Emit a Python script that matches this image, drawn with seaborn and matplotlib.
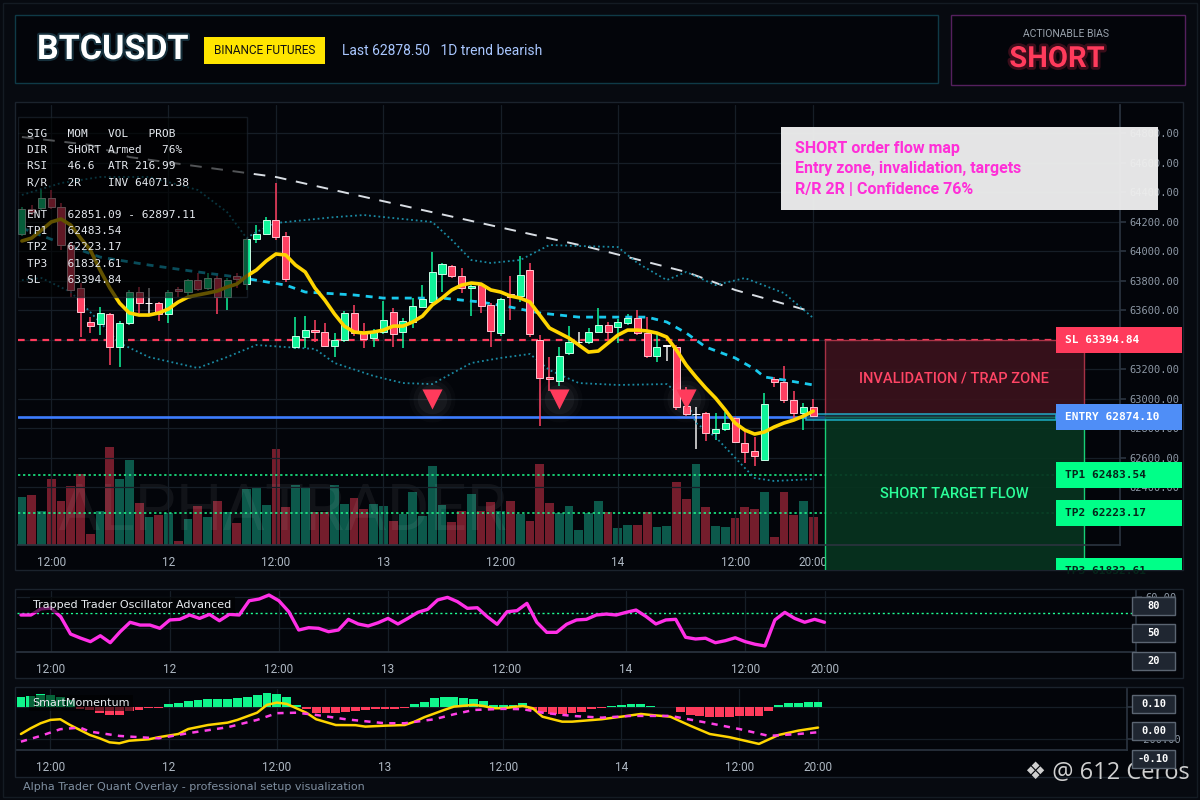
import numpy as np
import matplotlib
matplotlib.use("Agg")
import matplotlib.pyplot as plt
import matplotlib.patheffects as pe
from matplotlib.patches import Rectangle
from matplotlib.transforms import blended_transform_factory
import seaborn as sns

# ---------------- data ----------------
# BTCUSDT 1h candles, oldest first
opens = [64115, 64285, 64292, 64359, 64298, 64041, 63749, 63519, 63505, 63573,
         63349, 63512, 63722, 63645, 63647, 63573, 63742, 63722, 63803, 63749,
         63817, 63688, 63830, 63776, 64081, 64115, 64210, 64102, 63349, 63417,
         63464, 63451, 63356, 63397, 63580, 63444, 63410, 63451, 63586, 63451,
         63519, 63620, 63654, 63844, 63898, 63830, 63749, 63769, 63634, 63444,
         63708, 63695, 63871, 63397, 63146, 63119, 63308, 63380, 63383, 63451,
         63498, 63485, 63512, 63546, 63444, 63288, 63353, 63349, 62949, 62892,
         62902, 62766, 62793, 62868, 62698, 62644, 62583, 63132, 63112, 62990,
         62902, 62942]
highs = [64298, 64312, 64414, 64414, 64325, 64054, 63783, 63552, 63620, 63580,
         63525, 63736, 63756, 63749, 63654, 63736, 63756, 63810, 63851, 63851,
         63851, 63817, 63851, 64088, 64176, 64230, 64461, 64129, 63552, 63559,
         63532, 63512, 63444, 63593, 63634, 63512, 63471, 63661, 63613, 63546,
         63681, 63769, 63993, 63919, 63905, 63885, 63769, 63783, 63647, 63681,
         63830, 63966, 63919, 63430, 63281, 63349, 63491, 63451, 63478, 63613,
         63519, 63539, 63573, 63600, 63552, 63437, 63363, 63363, 63078, 62942,
         62908, 62902, 62908, 62874, 62786, 62739, 63037, 63146, 63220, 63051,
         62969, 62997]
lows = [64102, 64244, 64278, 64285, 64007, 63688, 63417, 63444, 63430, 63227,
        63214, 63498, 63580, 63573, 63525, 63512, 63688, 63681, 63729, 63736,
        63573, 63600, 63749, 63736, 64054, 64115, 64075, 63790, 63336, 63342,
        63383, 63349, 63281, 63383, 63424, 63342, 63349, 63437, 63349, 63342,
        63478, 63620, 63647, 63722, 63817, 63715, 63559, 63580, 63349, 63424,
        63532, 63654, 63417, 62813, 63051, 63085, 63295, 63349, 63369, 63444,
        63397, 63376, 63498, 63430, 63275, 63247, 63254, 62922, 62881, 62658,
        62712, 62719, 62779, 62698, 62563, 62542, 62576, 63078, 62969, 62868,
        62786, 62868]
closes = [64285, 64264, 64359, 64298, 64041, 63736, 63586, 63491, 63580, 63349,
          63512, 63722, 63647, 63650, 63573, 63722, 63729, 63803, 63742, 63817,
          63688, 63803, 63810, 64081, 64115, 64210, 64095, 63810, 63424, 63464,
          63451, 63356, 63397, 63580, 63444, 63403, 63451, 63532, 63437, 63525,
          63627, 63675, 63858, 63912, 63830, 63749, 63763, 63627, 63458, 63675,
          63688, 63837, 63437, 63139, 63132, 63288, 63383, 63386, 63451, 63498,
          63451, 63519, 63546, 63444, 63288, 63349, 63360, 62942, 62895, 62898,
          62766, 62793, 62834, 62705, 62637, 62610, 62963, 63112, 62990, 62902,
          62942, 62878.5]
volumes = [1420, 1480, 1000, 1960, 1300, 1750, 2110, 340, 1000, 2920,
           1960, 2530, 1240, 820, 880, 940, 130, 760, 1150, 820,
           1300, 970, 670, 1660, 1690, 1180, 2860, 1120, 1780, 1720,
           970, 970, 1780, 1210, 1390, 1060, 1210, 1150, 730, 910,
           1570, 850, 2350, 1180, 700, 1000, 1510, 1000, 1270, 1000,
           1300, 910, 730, 2410, 1240, 940, 1150, 460, 940, 1300,
           970, 520, 610, 610, 970, 550, 580, 1870, 1360, 2410,
           1120, 580, 550, 790, 1120, 1060, 1570, 250, 1570, 880,
           1300, 820]

# yellow fast average, one value per candle
fast_ma = [64068, 64088, 64142, 64197, 64217, 64176, 64088, 64007, 63871, 63749,
           63647, 63580, 63566, 63566, 63580, 63607, 63654, 63688, 63702, 63715,
           63729, 63756, 63776, 63830, 63871, 63932, 63980, 63973, 63905, 63858,
           63749, 63668, 63573, 63491, 63451, 63444, 63451, 63464, 63491, 63491,
           63519, 63559, 63634, 63681, 63736, 63769, 63783, 63776, 63736, 63722,
           63695, 63681, 63654, 63566, 63478, 63444, 63410, 63363, 63315, 63322,
           63376, 63430, 63464, 63464, 63458, 63444, 63417, 63329, 63227, 63146,
           63071, 63003, 62922, 62834, 62786, 62759, 62773, 62807, 62834, 62854,
           62881, 62915]

# band basis (cyan dashed) and its envelope (dotted), read at these candles
basis_idx = [0, 4, 8, 13, 18, 22, 27, 29, 34, 37, 43, 47, 50, 53, 57, 64, 66, 68, 70, 73, 75, 76, 78, 81]
basis_vals = [64156, 64054, 63959, 63905, 63858, 63824, 63769, 63722, 63702, 63681, 63681, 63654,
              63620, 63580, 63552, 63552, 63519, 63444, 63349, 63275, 63200, 63146, 63126, 63092]
upper_idx = [0, 4, 8, 13, 18, 21, 23, 24, 26, 32, 35, 39, 42, 44, 46, 48, 51, 52, 54, 57,
             61, 63, 66, 68, 71, 74, 78, 81]
upper_vals = [64380, 64461, 64502, 64502, 64414, 64264, 64088, 64129, 64190, 64230, 64244, 64217,
              64197, 64075, 63939, 63919, 63939, 63973, 64041, 64034, 64027, 63919, 63803, 63858,
              63769, 63817, 63715, 63546]
lower_idx = [0, 2, 5, 7, 10, 13, 18, 21, 24, 27, 30, 32, 36, 39, 42, 46, 49, 52, 54, 57,
             61, 66, 68, 69, 71, 74, 75, 77, 81]
lower_vals = [63803, 63817, 63722, 63586, 63376, 63281, 63207, 63281, 63363, 63349, 63336, 63241,
              63153, 63105, 63098, 63241, 63275, 63302, 63193, 63105, 63092, 63098, 62990, 62834,
              62739, 62529, 62461, 62441, 62454]
# slow trend (white dashed)
trend_idx = [0, 7, 11, 17, 26, 41, 58, 68, 73, 81]
trend_vals = [64773, 64719, 64637, 64583, 64502, 64278, 64027, 63858, 63736, 63586]

# short signals
signal_idx = [42, 55, 68]
signal_price = [62997, 62997, 62997]

# trade plan
sl_price = 63394.84
entry_price = 62874.10
entry_lo, entry_hi = 62851.09, 62897.11
tp_prices = [62483.54, 62223.17, 61832.61]
last_price = 62878.50

tick_idx = [3, 15, 26, 37, 49, 61, 73, 81]
tick_labels = ["12:00", "12", "12:00", "13", "12:00", "14", "12:00", "20:00"]
price_ticks = list(range(62400, 64801, 200))

# Trapped Trader Oscillator
osc_vals = [48.4, 48.4, 52.3, 52.9, 47.3, 36.1, 33.5, 31.2, 35.0, 30.5,
            37.6, 43.7, 41.9, 41.9, 39.8, 45.2, 45.6, 48.4, 46.2, 48.8,
            44.7, 48.8, 48.4, 57.6, 58.7, 61.3, 57.6, 50.5, 38.7, 40.2,
            39.8, 37.6, 38.7, 45.6, 42.6, 41.3, 43.4, 46.2, 42.6, 46.2,
            50.1, 52.1, 58.1, 59.8, 57.0, 52.7, 53.1, 47.3, 42.4, 50.5,
            51.2, 55.9, 43.7, 37.2, 37.2, 42.4, 45.2, 45.6, 48.4, 49.0,
            48.4, 50.1, 51.6, 47.5, 42.6, 45.2, 45.6, 34.0, 32.9, 33.4,
            30.5, 31.8, 33.7, 31.2, 29.5, 28.4, 45.2, 50.1, 46.2, 43.7,
            45.6, 43.7]
osc_level = 50

# SmartMomentum
hist_vals = [61, 69, 79, 75, 64, 44, -14, -19, -36, -50,
             -50, -23, -19, -6, -6, 19, 27, 39, 44, 50,
             50, 50, 54, 64, 75, 89, 81, 61, 12, -12,
             -36, -39, -39, -29, -25, -19, -14, -12, -12, -4,
             19, 31, 54, 64, 64, 58, 50, 39, 12, 12,
             12, 27, -19, -29, -44, -44, -36, -29, -14, -4,
             6, 12, 19, 19, 6, -2, -2, -33, -50, -56,
             -61, -61, -61, -56, -56, -56, -25, 12, 23, 23,
             31, 31]
mom_idx = [0, 1, 2, 3, 4, 5, 6, 7, 8, 9, 10, 11, 13, 14, 16, 17, 19, 21, 22, 24,
           25, 26, 27, 29, 30, 32, 34, 35, 37, 39, 40, 41, 43, 44, 46, 47, 48, 49, 51, 52,
           53, 55, 56, 59, 61, 63, 64, 66, 68, 70, 72, 75, 77, 79, 81]
mom_vals = [-169, -133, -102, -81, -77, -113, -144, -175, -196, -221, -227, -211, -202, -189,
            -169, -138, -113, -98, -81, -36, 13, 27, 19, -36, -77, -113, -114, -123, -117,
            -113, -92, -64, -19, 2, 13, 6, -8, -8, 6, -8, -61, -92, -92, -77, -61, -44, -50,
            -61, -117, -169, -189, -231, -175, -148, -129]
momsig_idx = [0, 2, 4, 6, 7, 10, 12, 14, 17, 21, 24, 26, 28, 30, 33, 37, 39, 42, 44, 46,
              49, 51, 53, 56, 59, 62, 66, 70, 73, 76, 79, 81]
momsig_vals = [-217, -181, -139, -129, -154, -181, -189, -196, -164, -127, -81, -39, -36, -50,
               -77, -102, -102, -77, -46, -19, -12, -14, -36, -56, -67, -56, -56, -102, -138,
               -181, -169, -158]

# ---------------- style ----------------
BG = "#070a10"
PANEL_BG = "#03050a"
PANEL_EDGE = "#1b232d"
GRID = "#161e27"
UP = "#10f59a"
DOWN = "#ff4062"
TEXT_DIM = "#8d98a5"
MONO = ["DejaVu Sans Mono"]
COND = ["Liberation Sans Narrow", "Roboto", "DejaVu Sans"]

sns.set_theme(style="dark")
plt.rcParams["font.family"] = ["DejaVu Sans"]
plt.rcParams["axes.unicode_minus"] = False

W, H = 1200, 800
fig = plt.figure(figsize=(12, 8), dpi=100, facecolor=BG)


def fx(p):
    return p / W


def fy(p):
    return 1 - p / H


def box(x0, y0, x1, y1):
    return [fx(x0), fy(y1), fx(x1) - fx(x0), fy(y0) - fy(y1)]


def panel(x0, y0, x1, y1, edge=PANEL_EDGE, face=PANEL_BG, lw=1.0, z=0):
    r = Rectangle((fx(x0), fy(y1)), fx(x1) - fx(x0), fy(y0) - fy(y1),
                  transform=fig.transFigure, facecolor=face, edgecolor=edge,
                  linewidth=lw, zorder=z)
    fig.add_artist(r)
    return r


def style_axes(a):
    a.set_facecolor("none")
    a.spines["top"].set_visible(False)
    a.spines["left"].set_visible(False)
    a.spines["right"].set_color("#2a333e")
    a.spines["bottom"].set_color("#2a333e")
    a.grid(True, color=GRID, linewidth=0.9)
    a.set_axisbelow(True)
    a.set_xlim(-0.4, 112.4)
    a.set_xticks(tick_idx)
    a.set_xticklabels(tick_labels)
    a.tick_params(axis="x", colors="#2a333e", labelcolor="#aeb8c3", labelsize=8.5,
                  length=3, pad=5)
    for t in a.get_xticklabels():
        t.set_family(COND)
    a.yaxis.tick_right()
    a.tick_params(axis="y", colors="#2a333e", labelcolor=TEXT_DIM, labelsize=7.5,
                  length=4, pad=3)
    a.set_xlabel("")
    a.set_ylabel("")


# outer frames
panel(3, 3, 1197, 797, edge="#141b23", face=BG)
panel(15, 15, 938, 83, edge="#0f3a47", face=PANEL_BG)
panel(951, 15, 1185, 85, edge="#55205e", face=PANEL_BG)
main_frame = panel(15, 102, 1183, 570)
panel(15, 589, 1183, 678)
panel(15, 687, 1183, 777)

# ---------------- header ----------------
fig.text(fx(37), fy(50), "BTCUSDT", fontsize=24.5, weight="bold", color="white",
         va="center", family=COND,
         path_effects=[pe.withStroke(linewidth=3, foreground="#16303c")])
fig.add_artist(Rectangle((fx(204), fy(64)), fx(121), 27 / H, transform=fig.transFigure,
                         facecolor="#ffe500", edgecolor="none"))
fig.text(fx(264.5), fy(51), "BINANCE FUTURES", fontsize=8.5, color="#111111",
         ha="center", va="center", family=COND)
fig.text(fx(342), fy(51), f"Last {last_price:.2f}   1D trend bearish", fontsize=10,
         color="#a9c7ff", va="center", family=COND)
fig.text(fx(1066), fy(34), "ACTIONABLE BIAS", fontsize=7.5, color="#9aa3ad",
         ha="center", va="center", family=COND)
fig.text(fx(1057), fy(59), "SHORT", fontsize=21, weight="bold", color="#ff3b5c",
         ha="center", va="center", family=COND,
         path_effects=[pe.withStroke(linewidth=4, foreground="#3a0d1a")])

# ---------------- main price chart ----------------
idx = np.arange(len(closes))
o = np.array(opens, dtype=float)
c = np.array(closes, dtype=float)
up = c >= o
doji = np.abs(c - o) < 10

ax = fig.add_axes(box(18, 105, 1120, 545))
ax_vol = ax.twinx()
ax.set_zorder(ax_vol.get_zorder() + 1)
ax.patch.set_visible(False)

# volume underlay
vol_colors = np.where(up, "#0d5e4f", "#7b1f2e")
ax_vol.bar(idx, volumes, width=0.9, color=vol_colors, linewidth=0, alpha=0.95)
ax_vol.set_ylim(0, max(volumes) * 440 / 98)
ax_vol.set_yticks([])
for s in ax_vol.spines.values():
    s.set_visible(False)
ax_vol.text(0.035, 0.005, "ALPHATRADER", transform=ax_vol.transAxes, fontsize=47,
            color="white", alpha=0.06, family=COND, va="bottom", ha="left", zorder=5)

style_axes(ax)
ax.set_ylim(62007, 64990)
ax.set_yticks(price_ticks)
ax.set_yticklabels([f"{p:.2f}" for p in price_ticks])
for t in ax.get_yticklabels():
    t.set_family(MONO)

# candles
cand_col = np.where(doji, "#eeeeee", np.where(up, UP, DOWN))
edge_col = np.where(doji, "#ffffff", np.where(up, "#c6ffe6", "#ffc4d0"))
ax.vlines(idx, lows, highs, colors=cand_col, linewidth=1.1, zorder=3)
ax.bar(idx, np.maximum(np.abs(c - o), 5), bottom=np.minimum(o, c), width=0.72,
       color=cand_col, edgecolor=edge_col, linewidth=0.7, zorder=4)

# overlays
sns.lineplot(x=trend_idx, y=trend_vals, ax=ax, color="#d9dee4", linewidth=1.4,
             linestyle=(0, (6, 5)), zorder=3)
sns.lineplot(x=upper_idx, y=upper_vals, ax=ax, color="#1a8aa3", linewidth=1.3,
             linestyle=(0, (1, 1.6)), zorder=3)
sns.lineplot(x=lower_idx, y=lower_vals, ax=ax, color="#1a8aa3", linewidth=1.3,
             linestyle=(0, (1, 1.6)), zorder=3)
sns.lineplot(x=basis_idx, y=basis_vals, ax=ax, color="#19c9ec", linewidth=2.0,
             linestyle=(0, (2.5, 2.2)), zorder=3)
sns.lineplot(x=idx, y=fast_ma, ax=ax, color="#ffd500", linewidth=2.6, zorder=6)

# trade levels
ax.axhline(sl_price, color="#ff3b5c", linewidth=1.6, linestyle=(0, (3, 2.5)), zorder=2)
ax.axhline(entry_price, color="#3d7dff", linewidth=1.9, zorder=2)
for tp in tp_prices[:2]:
    ax.axhline(tp, color="#1dff8e", linewidth=1.1, linestyle=(0, (1.5, 1.8)), zorder=2)

# zones
zone_x0, zone_x1 = 82.2, 108.7
zx_mid = (zone_x0 + zone_x1) / 2
ax.add_patch(Rectangle((zone_x0, entry_price), zone_x1 - zone_x0, sl_price - entry_price,
                       facecolor="#3a121c", edgecolor="#b3354a", linewidth=1.0,
                       alpha=0.92, zorder=2))
ax.text(zx_mid, (sl_price + entry_price) / 2, "INVALIDATION / TRAP ZONE", color="#ff4565",
        fontsize=10.5, ha="center", va="center", family=COND, weight="medium", zorder=3)
green = ax.add_patch(Rectangle((zone_x0, tp_prices[2]), zone_x1 - zone_x0,
                               entry_price - tp_prices[2], facecolor="#07331f",
                               edgecolor="#19e07f", linewidth=1.0, alpha=0.92, zorder=2))
green.set_clip_path(main_frame)
ax.text(zx_mid, (entry_price + tp_prices[2]) / 2, "SHORT TARGET FLOW", color="#2bff9a",
        fontsize=10.5, ha="center", va="center", family=COND, weight="medium", zorder=3)
ax.add_patch(Rectangle((80.3, entry_lo), 25.6, entry_hi - entry_lo, facecolor="#0c3c48",
                       edgecolor="#22d3f5", linewidth=1.2, alpha=0.7, zorder=3))

# signals with a soft halo
for size, alpha in [(1100, 0.02), (750, 0.03), (450, 0.04)]:
    ax.scatter(signal_idx, signal_price, s=size, color="white", alpha=alpha,
               linewidths=0, zorder=6)
ax.scatter(signal_idx, signal_price, marker="v", s=210, color="#ff3b5c", linewidths=0, zorder=7)

# info box
ax.add_patch(Rectangle((0, 0.5636), 0.208, 0.409, transform=ax.transAxes, facecolor="black",
                       alpha=0.62, edgecolor="#1f2832", linewidth=1, zorder=8))
info_lines = ["SIG   MOM   VOL   PROB",
              "DIR   SHORT Armed   76%",
              "RSI   46.6  ATR 216.99",
              f"R/R   2R    INV {64071.38:.2f}",
              "",
              f"ENT   {entry_lo:.2f} - {entry_hi:.2f}",
              f"TP1   {tp_prices[0]:.2f}",
              f"TP2   {tp_prices[1]:.2f}",
              f"TP3   {tp_prices[2]:.2f}",
              f"SL    {sl_price:.2f}"]
for k, line in enumerate(info_lines):
    ax.text(0.0082, (545 - 134 - 16.2 * k) / 440, line, transform=ax.transAxes,
            fontsize=8, color="#e6eaf0", family=MONO, va="center", ha="left", zorder=9)

# right side level tags
tag_tr = blended_transform_factory(fig.transFigure, ax.transData)
tags = [("SL", sl_price, "#ff3b5c", "white"),
        ("ENTRY", entry_price, "#4f8ef7", "white"),
        ("TP1", tp_prices[0], "#00ff88", "#05251a"),
        ("TP2", tp_prices[1], "#00ff88", "#05251a"),
        ("TP3", tp_prices[2], "#00ff88", "#05251a")]
for name, price, fc, tc in tags:
    r = ax.add_patch(Rectangle((fx(1056), price - 88), fx(1182) - fx(1056), 176,
                               transform=tag_tr, facecolor=fc, edgecolor="none", zorder=10))
    r.set_clip_path(main_frame)
    t = ax.text(fx(1065), price, f"{name} {price:.2f}", transform=tag_tr, color=tc,
                fontsize=8, weight="bold", family=MONO, va="center", ha="left", zorder=11)
    t.set_clip_path(main_frame)

# headline note box
panel(781, 127, 1158, 210, edge="none", face="#efefef", z=10).set_alpha(0.96)
note_lines = ["SHORT order flow map", "Entry zone, invalidation, targets",
              "R/R 2R | Confidence 76%"]
for k, line in enumerate(note_lines):
    fig.text(fx(795), fy(148 + 20.5 * k), line, color="#ff2fd8", fontsize=11.5,
             weight="bold", family=["Roboto", "DejaVu Sans"], va="center",
             zorder=11)

# ---------------- Trapped Trader Oscillator ----------------
ax1 = fig.add_axes(box(17, 591, 1136, 652))
style_axes(ax1)
ax1.set_ylim(24.5, 63.9)
ax1.set_yticks([40, 60])
ax1.set_yticklabels(["40.00", "60.00"])
for t in ax1.get_yticklabels():
    t.set_family(MONO)
ax1.axhline(osc_level, color="#1fff95", linewidth=1.0, linestyle=(0, (1.5, 2)), zorder=2)
sns.lineplot(x=idx, y=osc_vals, ax=ax1, color="#ff2fe6", linewidth=2.4, zorder=4)
ax1.text(fx(33), fy(605), "Trapped Trader Oscillator Advanced", transform=fig.transFigure,
         fontsize=8, color="#e8ecf0", va="center", zorder=6,
         bbox=dict(boxstyle="square,pad=0.3", facecolor="black", alpha=0.6, edgecolor="none"))

# ---------------- SmartMomentum ----------------
ax2 = fig.add_axes(box(17, 689, 1127, 750))
style_axes(ax2)
ax2.set_ylim(-269, 112)
ax2.set_yticks([0, -200])
ax2.set_yticklabels(["0.00", "-200.00"])
for t in ax2.get_yticklabels():
    t.set_family(MONO)
hist = np.array(hist_vals)
ax2.bar(idx, hist, width=0.9, color=np.where(hist >= 0, "#10f58c", "#ff3b5c"),
        linewidth=0, zorder=3)
sns.lineplot(x=mom_idx, y=mom_vals, ax=ax2, color="#ffd500", linewidth=1.8, zorder=4)
sns.lineplot(x=momsig_idx, y=momsig_vals, ax=ax2, color="#ff40e6", linewidth=1.8,
             linestyle=(0, (2.5, 2.5)), zorder=4)
ax2.text(fx(32), fy(703), "SmartMomentum", transform=fig.transFigure, fontsize=8,
         color="#e8ecf0", va="center", zorder=6,
         bbox=dict(boxstyle="square,pad=0.3", facecolor="black", alpha=0.6, edgecolor="none"))

# level tags on the oscillator scales
side_tags = [("80", 606), ("50", 633), ("20", 661), ("0.10", 704), ("0.00", 731), ("-0.10", 759)]
for label, yc in side_tags:
    panel(1132, yc - 9, 1175, yc + 9, edge="#5b6572", face="#1f2631", z=10)
    fig.text(fx(1153.5), fy(yc), label, fontsize=7.5, weight="bold", color="white",
             family=MONO, ha="center", va="center", zorder=11)

# ---------------- footer ----------------
fig.text(fx(23), fy(787), "Alpha Trader Quant Overlay - professional setup visualization",
         fontsize=8, color="#7f8fa0", va="center")
fig.text(fx(1190), fy(773), "\u2756 @ 612 Ceros", fontsize=17, color="#cfcfcf",
         ha="right", va="center", family=["Open Sans", "DejaVu Sans"])

fig.savefig("out.png", dpi=100, facecolor=fig.get_facecolor())
